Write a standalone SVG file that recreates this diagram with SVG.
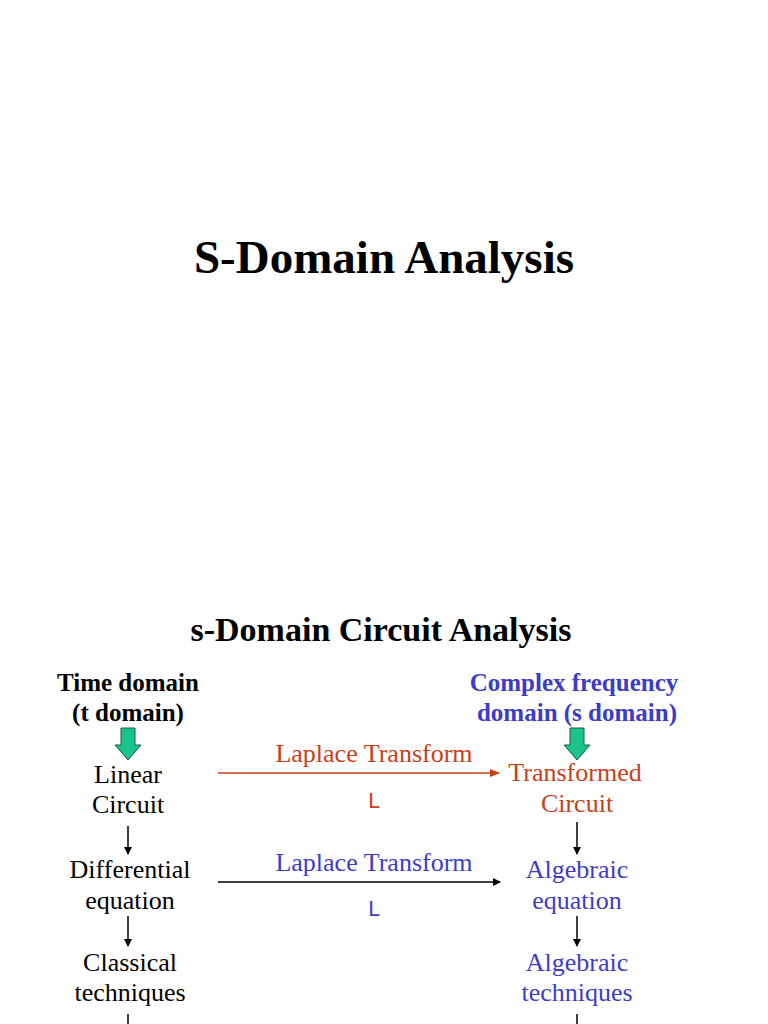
<svg xmlns="http://www.w3.org/2000/svg" width="768" height="1024" viewBox="0 0 768 1024">
<style>
.t{font-family:"Liberation Serif","Times New Roman",serif;font-size:26px;text-anchor:middle}
.h{font-weight:bold}
.k{fill:#000}.r{fill:#c8401a}.b{fill:#3c3cc8}
.m{font-family:"Liberation Mono","Courier New",monospace;font-size:22px;text-anchor:middle}
.g{fill:#18c48c;stroke:#1a5a44;stroke-width:1}
</style>
<defs>
<marker id="ak" markerWidth="8" markerHeight="8" refX="7" refY="4" orient="auto" markerUnits="userSpaceOnUse"><path d="M0,0L8,4L0,8z" fill="#000"/></marker>
<marker id="ar" markerWidth="10" markerHeight="8" refX="9" refY="4" orient="auto" markerUnits="userSpaceOnUse"><path d="M0,0L10,4L0,8z" fill="#c8401a"/></marker>
</defs>
<rect width="768" height="1024" fill="#fff"/>
<text x="384" y="273" class="t h" style="font-size:47px">S-Domain Analysis</text>
<text x="381" y="641" class="t h" style="font-size:34px">s-Domain Circuit Analysis</text>
<g id="time"><text x="128" y="691" class="t h" style="font-size:25px">Time domain</text><text x="128" y="721" class="t h" style="font-size:25px">(t domain)</text></g>
<g id="freq"><text x="574" y="691" class="t h b" style="font-size:25px">Complex frequency</text><text x="577" y="721" class="t h b" style="font-size:25px">domain (s domain)</text></g>
<g id="g1"><path class="g" d="M121,728H135V745H141L128,760L115,745H121Z"/></g>
<g id="g2"><path class="g" d="M570,728H584V745H590L577,760L564,745H570Z"/></g>
<g id="linear"><text x="128" y="783" class="t k">Linear</text><text x="128" y="813" class="t k">Circuit</text></g>
<g id="transformed"><text x="575" y="781" class="t r">Transformed</text><text x="577" y="812" class="t r">Circuit</text></g>
<g id="diff"><text x="130" y="878" class="t k">Differential</text><text x="130" y="909" class="t k">equation</text></g>
<g id="alg"><text x="577" y="878" class="t b">Algebraic</text><text x="577" y="909" class="t b">equation</text></g>
<g id="classical"><text x="130" y="971" class="t k">Classical</text><text x="130" y="1001" class="t k">techniques</text></g>
<g id="algtech"><text x="577" y="971" class="t b">Algebraic</text><text x="577" y="1001" class="t b">techniques</text></g>
<g id="connectors" stroke-width="1.5" fill="none">
<line x1="218" y1="773" x2="499" y2="773" stroke="#c8401a" marker-end="url(#ar)"/>
<line x1="218" y1="882" x2="500" y2="882" stroke="#000" marker-end="url(#ak)"/>
<line x1="128" y1="826" x2="128" y2="854" stroke="#000" marker-end="url(#ak)"/>
<line x1="577" y1="822" x2="577" y2="854" stroke="#000" marker-end="url(#ak)"/>
<line x1="128" y1="916" x2="128" y2="946" stroke="#000" marker-end="url(#ak)"/>
<line x1="577" y1="916" x2="577" y2="946" stroke="#000" marker-end="url(#ak)"/>
<line x1="128" y1="1014" x2="128" y2="1024" stroke="#000"/>
<line x1="577" y1="1014" x2="577" y2="1024" stroke="#000"/>
</g>
<text x="374" y="762" class="t r">Laplace Transform</text>
<text x="374" y="808" class="m r">L</text>
<text x="374" y="871" class="t b">Laplace Transform</text>
<text x="374" y="916" class="m b">L</text>
</svg>
